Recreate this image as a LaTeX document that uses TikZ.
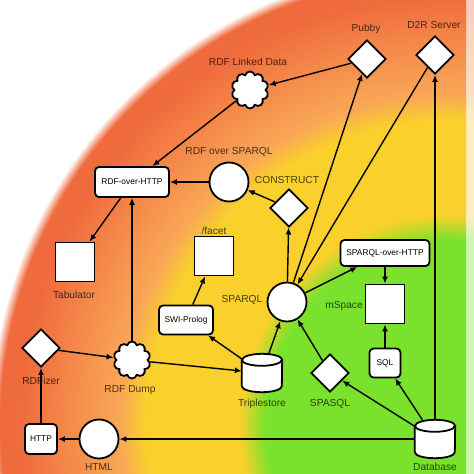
\documentclass[tikz,border=0pt]{standalone}
\usepackage{fontspec}
\setmainfont{Liberation Sans}
\usetikzlibrary{shapes.geometric,shapes.symbols,arrows.meta}
\definecolor{ringgreen}{RGB}{122,226,44}
\definecolor{ringyellow}{RGB}{249,208,44}
\definecolor{ringlight}{RGB}{249,168,86}
\definecolor{ringorange}{RGB}{244,132,72}
\definecolor{ringred}{RGB}{239,106,60}
\pgfdeclareradialshading{rings}{\pgfpointorigin}{%
  color(0bp)=(ringgreen); color(9.25bp)=(ringgreen); color(10.5bp)=(ringyellow);
  color(15.25bp)=(ringyellow); color(16.5bp)=(ringlight); color(19.5bp)=(ringorange);
  color(21.5bp)=(ringred); color(22.5bp)=(ringred); color(23bp)=(white);
  color(50bp)=(white)}
\newcommand{\drawdb}[1]{%
  \filldraw[shp] ([yshift=-6pt]#1.north west) -- ([yshift=6pt]#1.south west)
    arc[start angle=180,end angle=360,x radius=20pt,y radius=6pt]
    -- ([yshift=-6pt]#1.north east)
    arc[start angle=0,end angle=180,x radius=20pt,y radius=6pt] -- cycle;
  \draw[shp,fill=none] ([yshift=-6pt]#1.north west)
    arc[start angle=180,end angle=360,x radius=20pt,y radius=6pt];}
\begin{document}
\begin{tikzpicture}[x=1pt,y=-1pt,>={Latex[length=7pt,width=6pt]},
  every node/.style={font=\fontsize{10.2}{12}\selectfont},
  shp/.style={draw,fill=white,line width=1.8pt,inner sep=0pt},
  dia/.style={shp,diamond,minimum width=38pt,minimum height=38pt},
  circ/.style={shp,circle,minimum size=39pt},
  sq/.style={shp,rectangle,minimum size=39pt},
  box/.style={shp,rectangle,rounded corners=4pt,font=\fontsize{8.4}{10}\selectfont},
  cld/.style={shp,cloud,cloud puffs=10,aspect=1,minimum width=37pt,minimum height=37pt},
  db/.style={rectangle,inner sep=0pt,minimum width=40pt,minimum height=38pt},
  lab/.style={text=black,text opacity=0.7},
  arr/.style={->,line width=1.4pt}]
\useasboundingbox (0,0) rectangle (474,474);
\begin{scope}
\clip (0,0) rectangle (466,474);
\shade[shading=rings] (450,425) circle (500);
\end{scope}
\begin{scope}
\clip (466,0) rectangle (474,474);
\shade[shading=rings,opacity=0.35] (450,425) circle (500);
\end{scope}

\node[dia](Pubby) at (367,59){};
\node[dia](D2R) at (435,55){};
\node[cld](Linked) at (250,90){};
\node[box,minimum width=74pt,minimum height=30pt](OverHTTP) at (132,182){RDF-over-HTTP};
\node[circ](OverSPARQL) at (229,182){};
\node[dia](Construct) at (289,208){};
\node[sq](Facet) at (214,256){};
\node[sq](Tabulator) at (75,262){};
\node[circ](SPARQL) at (287,302){};
\node[box,minimum width=89pt,minimum height=26pt](SPOverHTTP) at (385,253){SPARQL-over-HTTP};
\node[sq](mSpace) at (385,304){};
\node[box,minimum width=31pt,minimum height=29pt](SQL) at (385,363){SQL};
\node[box,minimum width=54pt,minimum height=29pt](SWI) at (186,320){SWI-Prolog};
\node[dia](RDFizer) at (41,348){};
\node[cld](Dump) at (132,360){};
\node[db](Triplestore) at (262,373){};
\node[dia](SPASQL) at (330,373){};
\node[box,minimum width=32pt,minimum height=30pt](HTTP) at (41,439){HTTP};
\node[circ](HTML) at (99,439){};
\node[db](Database) at (435,439){};
\drawdb{Triplestore}
\drawdb{Database}

\node[lab](PubbyL) at (366,29){Pubby};
\node[lab](D2RL) at (434,25){D2R Server};
\node[lab](LinkedL) at (248,62){RDF Linked Data};
\node[lab](OverSPARQLL) at (229,152){RDF over SPARQL};
\node[lab](ConstructL) at (287,180){CONSTRUCT};
\node[lab](FacetL) at (214,231){/facet};
\node[lab](TabulatorL) at (74,295){Tabulator};
\node[lab](SPARQLL) at (242,300){SPARQL};
\node[lab](mSpaceL) at (344,306){mSpace};
\node[lab](RDFizerL) at (41,381){RDFizer};
\node[lab](DumpL) at (130,390){RDF Dump};
\node[lab](TriplestoreL) at (262,404){Triplestore};
\node[lab](SPASQLL) at (330,404){SPASQL};
\node[lab](HTMLL) at (99,467){HTML};
\node[lab](DatabaseL) at (435,467){Database};

\draw[arr](Pubby) -- (Linked);
\draw[arr](SPARQL) -- (Pubby);
\draw[arr](D2R) -- (SPARQL);
\draw[arr](Database) -- (D2R);
\draw[arr](SPARQL) -- (Construct);
\draw[arr](Construct) -- (OverSPARQL);
\draw[arr](OverSPARQL) -- (OverHTTP);
\draw[arr](Linked) -- (OverHTTP);
\draw[arr](OverHTTP) -- (Tabulator);
\draw[arr](Dump) -- (OverHTTP);
\draw[arr](RDFizer) -- (Dump);
\draw[arr](Dump) -- (Triplestore);
\draw[arr](Triplestore) -- (SWI);
\draw[arr](SWI) -- (Facet);
\draw[arr](Triplestore) -- (SPARQL);
\draw[arr](SPASQL) -- (SPARQL);
\draw[arr](Database) -- (SPASQL);
\draw[arr](Database) -- (SQL);
\draw[arr](SQL) -- (mSpace);
\draw[arr](SPOverHTTP) -- (mSpace);
\draw[arr](SPARQL) -- (SPOverHTTP);
\draw[arr](Database) -- (HTML);
\draw[arr](HTML) -- (HTTP);
\draw[arr](HTTP) -- (RDFizer);
\end{tikzpicture}
\end{document}
